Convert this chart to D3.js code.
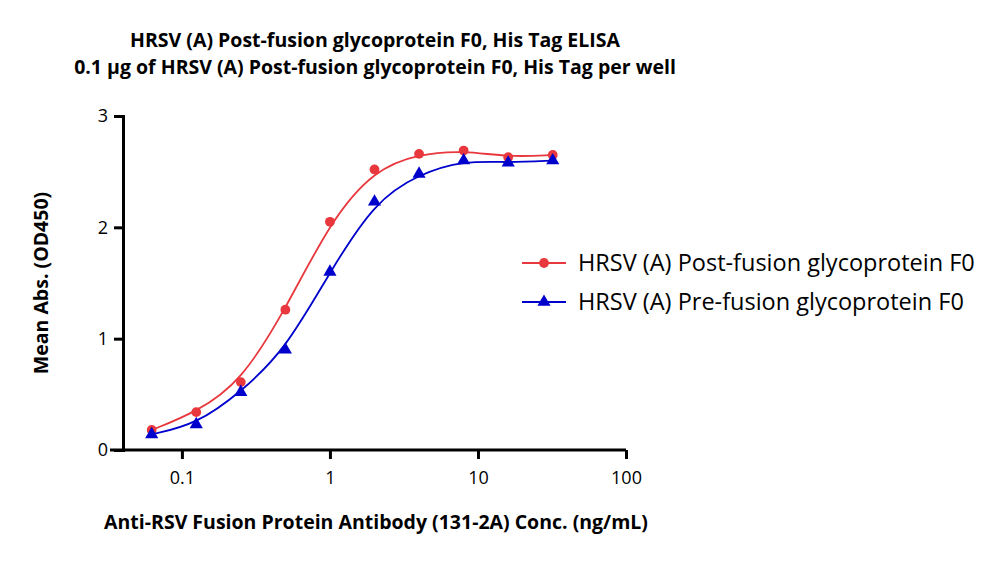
<!DOCTYPE html>
<html><head><meta charset="utf-8">
<script src="https://cdn.jsdelivr.net/npm/d3@7"></script>
<style>body{margin:0;background:#fff}text{font-family:"Open Sans",Arial,sans-serif}</style>
</head><body><div id="chart"></div>
<script>
const conc = [0.0625, 0.125, 0.25, 0.5, 1, 2, 4, 8, 16, 32];
const postFusion = [0.18, 0.34, 0.61, 1.26, 2.05, 2.52, 2.66, 2.69, 2.63, 2.65];
const preFusion = [0.14, 0.23, 0.52, 0.90, 1.60, 2.23, 2.48, 2.60, 2.58, 2.60];
const xTicks = [0.1, 1, 10, 100];
const yTicks = [0, 1, 2, 3];
const seriesNames = ['HRSV (A) Post-fusion glycoprotein F0', 'HRSV (A) Pre-fusion glycoprotein F0'];

const svg = d3.select('#chart').append('svg').attr('width', 1000).attr('height', 588);
const x = d3.scaleLog().domain([0.04, 100]).range([123, 626]);
const y = d3.scaleLinear().domain([0, 3]).range([450, 116]);

const xAxis = svg.append('g').attr('transform', 'translate(0,450)')
    .call(d3.axisBottom(x).tickValues(xTicks).tickFormat(d => String(d)).tickSize(9).tickPadding(12));
const yAxis = svg.append('g').attr('transform', 'translate(123,0)')
    .call(d3.axisLeft(y).tickValues(yTicks).tickFormat(d3.format('d')).tickSize(9).tickPadding(6));
[xAxis, yAxis].forEach(a => {
    a.select('.domain').attr('stroke', '#000').attr('stroke-width', 3);
    a.selectAll('.tick line').attr('stroke', '#000').attr('stroke-width', 3);
    a.selectAll('.tick text').attr('font-size', 18).attr('fill', '#000').style('font-family', 'Open Sans');
});
xAxis.select('.domain').attr('d', 'M110,0H626');

const series = [
    {name: seriesNames[0], values: postFusion, color: '#e8383d', shape: d3.symbolCircle},
    {name: seriesNames[1], values: preFusion, color: '#0000cc', shape: d3.symbolTriangle}
];
const line = d3.line().x((d, i) => x(conc[i])).y(d => y(d)).curve(d3.curveBasis);

series.forEach((s, k) => {
    svg.append('path').datum(s.values).attr('d', line)
        .attr('fill', 'none').attr('stroke', s.color).attr('stroke-width', 1.8);
    svg.selectAll('.pt' + k).data(s.values).enter().append('path')
        .attr('transform', (d, i) => `translate(${x(conc[i])},${y(d)})`)
        .attr('d', d3.symbol().type(s.shape).size(75)).attr('fill', s.color);
    const ly = 263 + k * 39;
    svg.append('line').attr('x1', 522).attr('x2', 566).attr('y1', ly).attr('y2', ly)
        .attr('stroke', s.color).attr('stroke-width', 1.8);
    svg.append('path').attr('transform', `translate(544,${ly})`)
        .attr('d', d3.symbol().type(s.shape).size(75)).attr('fill', s.color);
    svg.append('text').attr('x', 578).attr('y', ly + 8).attr('font-size', 23.5).text(s.name);
});

svg.append('text').attr('x', 375).attr('y', 47).attr('text-anchor', 'middle')
    .attr('font-size', 19.5).attr('font-weight', 'bold').text('HRSV (A) Post-fusion glycoprotein F0, His Tag ELISA');
svg.append('text').attr('x', 375).attr('y', 74).attr('text-anchor', 'middle')
    .attr('font-size', 19.5).attr('font-weight', 'bold').text('0.1 μg of HRSV (A) Post-fusion glycoprotein F0, His Tag per well');
svg.append('text').attr('x', 376).attr('y', 529).attr('text-anchor', 'middle')
    .attr('font-size', 19.5).attr('font-weight', 'bold').text('Anti-RSV Fusion Protein Antibody (131-2A) Conc. (ng/mL)');
svg.append('text').attr('transform', 'translate(48,283) rotate(-90)').attr('text-anchor', 'middle')
    .attr('font-size', 19.5).attr('font-weight', 'bold').text('Mean Abs. (OD450)');
</script></body></html>
